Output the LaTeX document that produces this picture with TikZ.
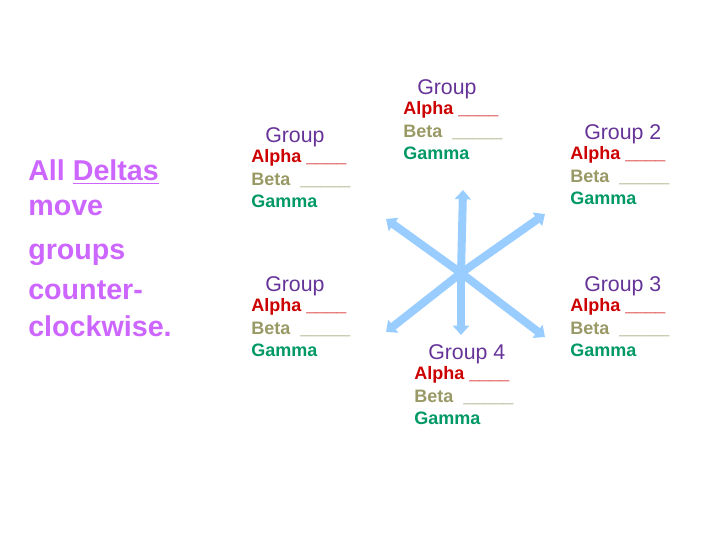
\documentclass[tikz,border=0pt]{standalone}
\usepackage{fontspec}
\setmainfont{Liberation Sans}
\usetikzlibrary{arrows.meta}
\definecolor{grpcol}{HTML}{663399}
\definecolor{alphacol}{HTML}{CC0000}
\definecolor{betacol}{HTML}{999966}
\definecolor{gammacol}{HTML}{009966}
\definecolor{movecol}{HTML}{CC66FF}
\definecolor{arrowcol}{HTML}{99CCFF}
\tikzset{
  title/.style={anchor=west, inner sep=0pt, text=grpcol, font=\fontsize{16}{18}\selectfont},
  line/.style={anchor=west, inner sep=0pt, font=\bfseries\fontsize{13.5}{15}\selectfont},
  move/.style={anchor=west, inner sep=0pt, text=movecol, font=\bfseries\fontsize{21.5}{24}\selectfont},
  spoke/.style={arrowcol, line width=6pt, -{Triangle[length=7pt,width=12pt]}}
}
% one group block: name, x, y of title, title text
\newcommand{\grp}[4]{
  \node[title] (#1) at (#2,#3) {#4};
  \node[line, text=alphacol] (#1a) at (#2-14,#3+21) {Alpha \_\_\_\_};
  \node[line, text=betacol] (#1b) at (#2-14,#3+43) {Beta \ \_\_\_\_\_};
  \node[line, text=gammacol] (#1c) at (#2-14,#3+64) {Gamma};
}
\begin{document}
\begin{tikzpicture}[x=0.75pt, y=-0.75pt]
  \useasboundingbox (0,0) rectangle (720,540);
  % left text
  \node[move] (all) at (28,172) {All \underline{Deltas}};
  \node[move] (mv) at (28,208) {move};
  \node[move] (grs) at (28,255) {groups};
  \node[move] (cnt) at (28,290) {counter-};
  \node[move] (clk) at (28,326) {clockwise.};
  % groups
  \grp{gt}{417}{89}{Group}
  \grp{gul}{265}{137}{Group}
  \grp{gll}{265}{286}{Group}
  \grp{gtwo}{584}{134}{Group 2}
  \grp{gthree}{584}{286}{Group 3}
  \grp{gfour}{428}{354}{Group 4}
  % arrows
  \coordinate (c) at (461,273);
  \coordinate (up) at (463,190);
  \coordinate (dn) at (461,335);
  \coordinate (ur) at (545,214);
  \coordinate (ll) at (386,332);
  \coordinate (ul) at (386,219);
  \coordinate (lr) at (545,337);
  \foreach \e in {up,dn,ur,ll,ul,lr}
    \draw[spoke] (c) -- (\e);
\end{tikzpicture}
\end{document}
